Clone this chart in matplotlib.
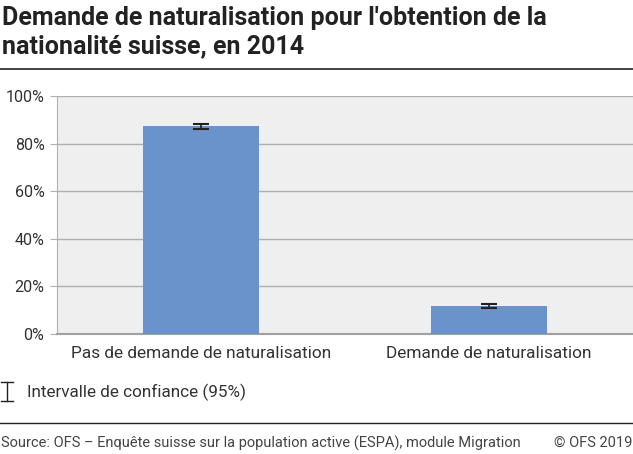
import matplotlib
matplotlib.use("Agg")
import matplotlib.pyplot as plt
from matplotlib.lines import Line2D

plt.rcParams['font.family'] = ['Roboto', 'DejaVu Sans']

categories = ["Pas de demande de naturalisation", "Demande de naturalisation"]
values = [87.3, 11.8]
errors = [1.1, 1.0]
yticks = [0, 20, 40, 60, 80, 100]
ytick_labels = ["0%", "20%", "40%", "60%", "80%", "100%"]

W, H = 633, 454
fig = plt.figure(figsize=(W/100, H/100), dpi=100)

ax = fig.add_axes([57/W, 1-334/H, (W-57)/W, (334-96)/H])
ax.set_facecolor('#efefef')
x = list(range(len(categories)))
ax.bar(x, values, width=0.4, color='#6a93cc', zorder=3)
ax.errorbar(x, values, yerr=errors, fmt='none', ecolor='#222222', elinewidth=1.2,
            capsize=6, capthick=1.5, zorder=4)
ax.set_xlim(-0.5, 1.5)
ax.set_ylim(0, 100)
ax.set_yticks(yticks)
ax.set_yticklabels(ytick_labels)
ax.set_xticks(x)
ax.set_xticklabels(categories)
ax.yaxis.grid(True, color='#b0b0b0', linewidth=1, zorder=0)
for s in ['top', 'right']:
    ax.spines[s].set_visible(False)
ax.spines['left'].set_color('#b0b0b0')
ax.spines['bottom'].set_color('#a0a0a0')
ax.spines['bottom'].set_linewidth(1.5)
ax.tick_params(axis='y', length=5, color='#b0b0b0', labelsize=11.6, labelcolor='#333333', pad=4)
ax.tick_params(axis='x', length=0, labelsize=12.4, labelcolor='#333333', pad=9)

fig.text(2/W, 1-18/H, "Demande de naturalisation pour l'obtention de la", fontsize=18,
         fontweight='bold', color='#222222', va='center', ha='left')
fig.text(2/W, 1-46/H, "nationalité suisse, en 2014", fontsize=18,
         fontweight='bold', color='#222222', va='center', ha='left')
fig.add_artist(Line2D([0, 1], [1-69/H, 1-69/H], color='#222222', linewidth=1.2,
                      transform=fig.transFigure))
fig.add_artist(Line2D([0, 1], [1-423/H, 1-423/H], color='#222222', linewidth=1.0,
                      transform=fig.transFigure))

# legend symbol for confidence interval
lx = 7/W
fig.add_artist(Line2D([lx, lx], [1-382/H, 1-401/H], color='#222222', linewidth=1, transform=fig.transFigure))
fig.add_artist(Line2D([lx-6/W, lx+6/W], [1-382/H, 1-382/H], color='#222222', linewidth=1, transform=fig.transFigure))
fig.add_artist(Line2D([lx-6/W, lx+6/W], [1-401/H, 1-401/H], color='#222222', linewidth=1, transform=fig.transFigure))
fig.text(27/W, 1-392/H, "Intervalle de confiance (95%)", fontsize=12.3, color='#333333',
         va='center', ha='left')

fig.text(1/W, 1-443/H, "Source: OFS – Enquête suisse sur la population active (ESPA), module Migration",
         fontsize=10.5, color='#444444', va='center', ha='left')
fig.text(632/W, 1-443/H, "© OFS 2019", fontsize=10.5, color='#444444', va='center', ha='right')

fig.savefig("out.png", dpi=100)
